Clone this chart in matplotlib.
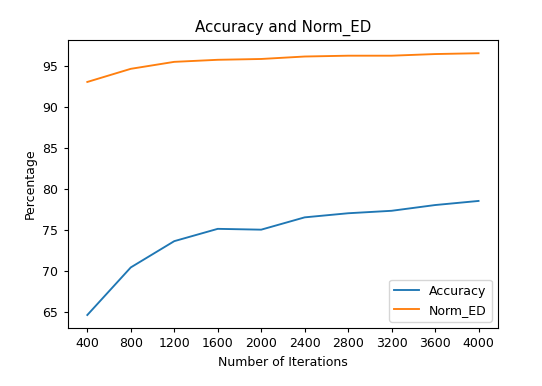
import matplotlib
matplotlib.use("Agg")
import matplotlib.pyplot as plt

iterations = [400, 800, 1200, 1600, 2000, 2400, 2800, 3200, 3600, 4000]
accuracy = [64.6, 70.4, 73.6, 75.1, 75.0, 76.5, 77.0, 77.3, 78.0, 78.5]
norm_ed = [93.0, 94.6, 95.45, 95.7, 95.8, 96.1, 96.2, 96.2, 96.4, 96.5]

plt.rcParams['font.size'] = 9
plt.rcParams['lines.linewidth'] = 1.35
plt.rcParams['xtick.major.size'] = 3.2
plt.rcParams['ytick.major.size'] = 3.2

fig = plt.figure(figsize=(5.42, 3.86), dpi=100)
ax = fig.add_axes([0.125, 0.150, 0.794, 0.746])
ax.plot(iterations, accuracy, label='Accuracy')
ax.plot(iterations, norm_ed, label='Norm_ED')
ax.set_xticks(iterations)
ax.set_title('Accuracy and Norm_ED')
ax.set_xlabel('Number of Iterations')
ax.set_ylabel('Percentage')
ax.legend(loc='lower right')

fig.savefig('out.png', dpi=100)
